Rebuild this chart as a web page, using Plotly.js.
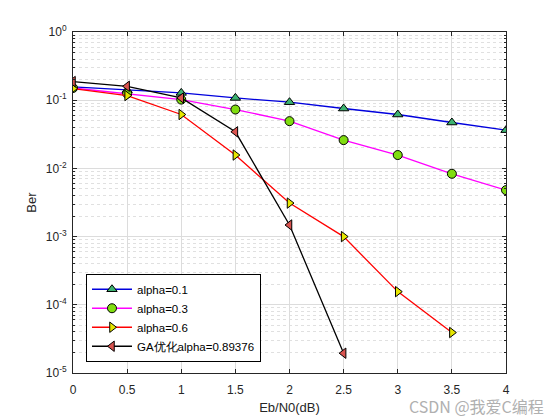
<!DOCTYPE html>
<html><head><meta charset="utf-8">
<script src="https://cdn.plot.ly/plotly-3.0.1.min.js"></script>
<style>html,body{margin:0;padding:0;background:#fff}#chart{width:560px;height:420px}</style>
</head><body><div id="chart"></div>
<script>
const ebn0 = [0, 0.5, 1, 1.5, 2, 2.5, 3, 3.5, 4];
const berA01 = [0.157, 0.14, 0.128, 0.108, 0.0935, 0.0755, 0.0617, 0.0471, 0.0364];
const berA03 = [0.151, 0.125, 0.102, 0.073, 0.0493, 0.026, 0.0157, 0.00834, 0.0048];
const ebn0A06 = [0, 0.5, 1, 1.5, 2, 2.5, 3, 3.5];
const berA06 = [0.148, 0.117, 0.0617, 0.0157, 0.0031, 0.001, 0.000156, 0.0000392];
const ebn0GA = [0, 0.5, 1, 1.5, 2, 2.5];
const berGA = [0.1876, 0.16, 0.108, 0.0344, 0.00148, 0.0000195];
const seriesNames = ['alpha=0.1', 'alpha=0.3', 'alpha=0.6', 'GA优化alpha=0.89376'];
const xTicks = [0, 0.5, 1, 1.5, 2, 2.5, 3, 3.5, 4];
const xTickText = ['0', '0.5', '1', '1.5', '2', '2.5', '3', '3.5', '4'];
const yTicks = [1e-5, 1e-4, 1e-3, 1e-2, 1e-1, 1];
const yTickText = ['10<sup>-5</sup>', '10<sup>-4</sup>', '10<sup>-3</sup>', '10<sup>-2</sup>', '10<sup>-1</sup>', '10<sup>0</sup>'];

const mk = (sym, fill) => ({symbol: sym, size: 9, color: fill, line: {color: '#000', width: 1}});
const traces = [
  {x: ebn0, y: berA01, name: seriesNames[0], mode: 'lines+markers', line: {color: '#0000dd', width: 1.3}, marker: mk('triangle-up', '#3cb371')},
  {x: ebn0, y: berA03, name: seriesNames[1], mode: 'lines+markers', line: {color: '#ff00ff', width: 1.3}, marker: mk('circle', '#80dd10')},
  {x: ebn0A06, y: berA06, name: seriesNames[2], mode: 'lines+markers', line: {color: '#ff0000', width: 1.3}, marker: mk('triangle-right', '#e6e600')},
  {x: ebn0GA, y: berGA, name: seriesNames[3], mode: 'lines+markers', line: {color: '#000000', width: 1.3}, marker: mk('triangle-left', '#d9534f')}
];
const fontFam = 'Liberation Sans, Arial, sans-serif';
const layout = {
  width: 560, height: 420,
  margin: {l: 73, r: 54, t: 32, b: 47},
  paper_bgcolor: '#fff', plot_bgcolor: '#fff',
  font: {family: fontFam, size: 12, color: '#262626'},
  showlegend: true,
  legend: {x: 0.03, y: 0.033, xanchor: 'left', yanchor: 'bottom', bordercolor: '#000', borderwidth: 1, bgcolor: '#fff', font: {size: 11.5, color: '#000'}, tracegroupgap: 0, itemwidth: 40},
  xaxis: {
    range: [0, 4], tickvals: xTicks, ticktext: xTickText,
    showgrid: true, gridcolor: '#dcdcdc', gridwidth: 1,
    ticks: 'inside', ticklen: 4, tickcolor: '#262626', ticklabelstandoff: 6,
    tickfont: {size: 12, color: '#262626'},
    showline: true, linecolor: '#262626', linewidth: 1, mirror: 'ticks', zeroline: false,
    title: {text: 'Eb/N0(dB)', font: {size: 13, color: '#262626'}, standoff: 6}
  },
  yaxis: {
    type: 'log', range: [-5, 0], tickvals: yTicks, ticktext: yTickText,
    showgrid: true, gridcolor: '#dcdcdc', gridwidth: 1,
    ticks: 'inside', ticklen: 4, tickcolor: '#262626', ticklabelstandoff: 3,
    tickfont: {size: 12, color: '#262626'},
    minor: {dtick: 'D1', showgrid: true, gridcolor: '#e0e0e0', griddash: 'dot', ticks: 'inside', ticklen: 2, tickcolor: '#262626'},
    showline: true, linecolor: '#262626', linewidth: 1, mirror: 'ticks', zeroline: false,
    title: {text: 'Ber', font: {size: 13, color: '#262626'}, standoff: 6}
  },
  annotations: [{
    text: 'CSDN @我爱C编程', xref: 'paper', yref: 'paper', x: 1.09, y: -0.097, xanchor: 'right', yanchor: 'middle',
    showarrow: false, borderpad: 0, font: {family: 'Noto Sans CJK SC, sans-serif', size: 16, color: '#b0b0b0'}
  }]
};
Plotly.newPlot('chart', traces, layout, {staticPlot: true, displayModeBar: false});
</script></body></html>
